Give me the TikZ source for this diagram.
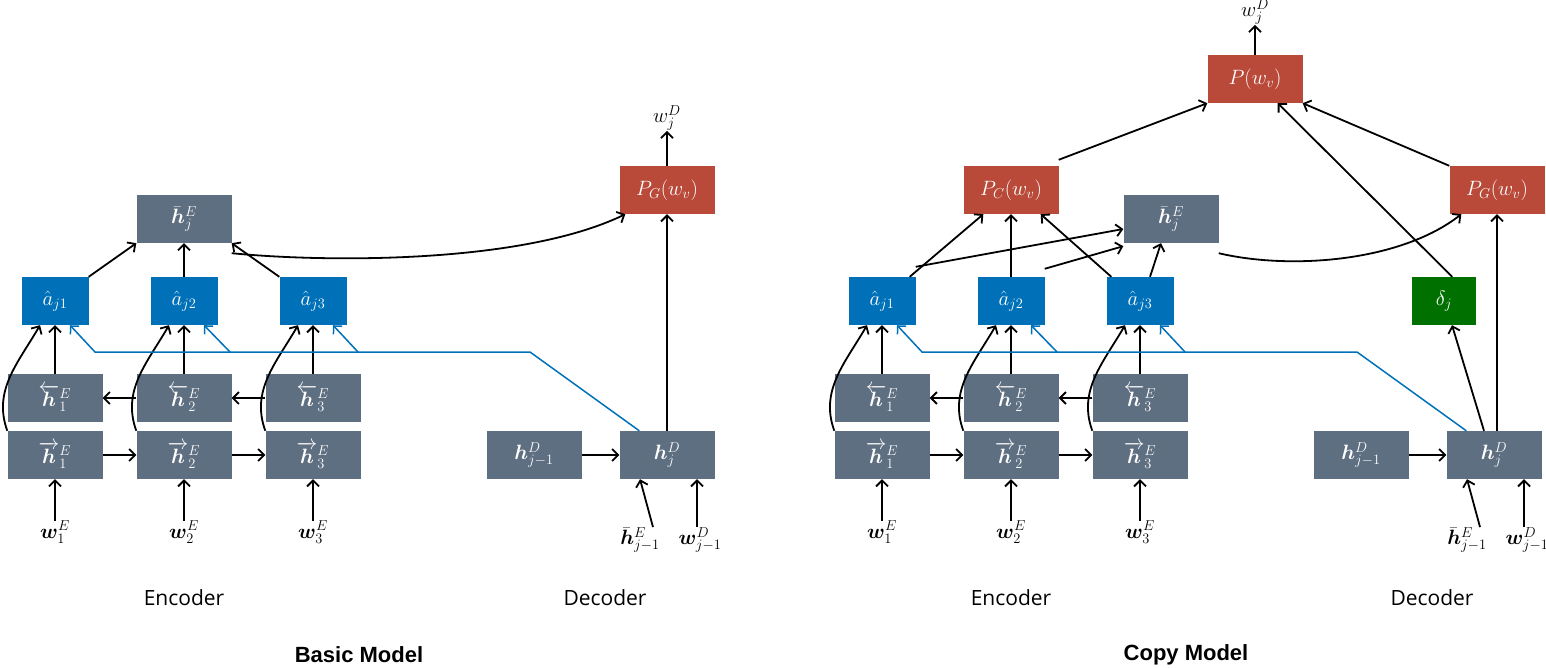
\documentclass[tikz,border=0pt]{standalone}
\usepackage{amsmath,bm}
\usepackage{fontspec}
\newfontfamily\sansf{Open Sans}
\newfontfamily\titlef{Liberation Sans}
\usetikzlibrary{arrows.meta}
\definecolor{gbox}{RGB}{95,111,130}
\definecolor{bbox}{RGB}{0,113,184}
\definecolor{rbox}{RGB}{185,74,58}
\definecolor{grbox}{RGB}{0,112,0}
\begin{document}
\begin{tikzpicture}[x=1pt,y=-1pt,
 box/.style={fill=#1,text=white,minimum width=95pt,minimum height=48pt,inner sep=0pt,font=\fontsize{22}{26}\selectfont},
 sbox/.style={box=#1,minimum width=67pt},
 ar/.style={-{Straight Barb[length=6pt,width=12pt]},line width=1.8pt},
 bl/.style={ar,draw=bbox,line width=1.5pt},
 lab/.style={font=\fontsize{22}{26}\selectfont,inner sep=0pt},
 captxt/.style={font=\sansf\fontsize{21}{25}\selectfont},
 ttl/.style={font=\titlef\bfseries\fontsize{22}{26}\selectfont}]
\useasboundingbox (0,0) rectangle (1546,668);
% ===== Basic model =====
\foreach \i/\x in {1/55,2/184,3/313}{
 \node[box=gbox] (f\i) at (\x,455) {$\overrightarrow{\bm h}{}^E_\i$};
 \node[box=gbox] (b\i) at (\x,398) {$\overleftarrow{\bm h}{}^E_\i$};
 \node[sbox=bbox] (a\i) at (\x,301) {$\hat a_{j\i}$};
 \node[lab] (w\i) at (\x,532) {$\bm w^E_\i$};
 \draw[ar] (w\i.north) -- (f\i.south);
 \draw[ar] (b\i) -- (a\i);
 \draw[ar] (f\i.north west) to[out=110,in=240] ([xshift=-15pt]a\i.south);
}
\draw[ar] (f1) -- (f2); \draw[ar] (f2) -- (f3);
\draw[ar] (b3) -- (b2); \draw[ar] (b2) -- (b1);
\node[box=gbox] (hb) at (184,219) {$\bar{\bm h}{}^E_j$};
\draw[ar] (a1.north east) -- (hb.south west);
\draw[ar] (a2) -- (hb);
\draw[ar] (a3.north west) -- (hb.south east);
\node[box=gbox] (hdp) at (534,455) {$\bm h^D_{j-1}$};
\node[box=gbox] (hd) at (667,455) {$\bm h^D_{j}$};
\node[box=rbox] (pg) at (667,190) {$P_G(w_v)$};
\node[lab] (wd) at (667,118) {$w^D_j$};
\node[lab] (i1) at (640,540) {$\bar{\bm h}{}^E_{j-1}$};
\node[lab] (i2) at (700,540) {$\bm w^D_{j-1}$};
\draw[ar] (hdp) -- (hd);
\draw[ar] (hd) -- (pg);
\draw[ar] (pg) -- (wd.south);
\draw[ar] ([xshift=13pt]i1.north) -- ([xshift=-27pt]hd.south);
\draw[ar] ([xshift=-3pt]i2.north) -- ([xshift=30pt]hd.south);
\draw[ar] ([yshift=-10pt]hb.south east) .. controls (320,262) and (520,265) .. ([xshift=6pt]pg.south west);
\coordinate (c1) at (530,352); \coordinate (c2) at (95,352);
\coordinate (c3) at (230,352); \coordinate (c4) at (358,352);
\draw[bl] ([xshift=20pt]hd.north west) -- (c1) -- (c2) -- ([xshift=15pt]a1.south);
\draw[bl] (c3) -- ([xshift=20pt]a2.south);
\draw[bl] (c4) -- ([xshift=20pt]a3.south);
\node[captxt] (enc) at (184,598) {Encoder};
\node[captxt] (dec) at (605,598) {Decoder};
\node[ttl] (t1) at (359,655) {Basic Model};
% ===== Copy model =====
\foreach \i/\x in {1/882,2/1011,3/1140}{
 \node[box=gbox] (F\i) at (\x,455) {$\overrightarrow{\bm h}{}^E_\i$};
 \node[box=gbox] (B\i) at (\x,398) {$\overleftarrow{\bm h}{}^E_\i$};
 \node[sbox=bbox] (A\i) at (\x,301) {$\hat a_{j\i}$};
 \node[lab] (W\i) at (\x,532) {$\bm w^E_\i$};
 \draw[ar] (W\i.north) -- (F\i.south);
 \draw[ar] (B\i) -- (A\i);
 \draw[ar] (F\i.north west) to[out=110,in=240] ([xshift=-15pt]A\i.south);
}
\draw[ar] (F1) -- (F2); \draw[ar] (F2) -- (F3);
\draw[ar] (B3) -- (B2); \draw[ar] (B2) -- (B1);
\node[box=gbox] (HB) at (1171,219) {$\bar{\bm h}{}^E_j$};
\node[box=rbox] (PC) at (1011,190) {$P_C(w_v)$};
\node[box=rbox] (PG) at (1497,190) {$P_G(w_v)$};
\node[box=rbox] (P) at (1255,79) {$P(w_v)$};
\node[lab] (WD) at (1255,12) {$w^D_j$};
\node[sbox=grbox,minimum width=64pt] (dl) at (1444,301) {$\delta_j$};
\node[box=gbox] (HDP) at (1361,455) {$\bm h^D_{j-1}$};
\node[box=gbox] (HD) at (1494,455) {$\bm h^D_{j}$};
\node[lab] (I1) at (1467,540) {$\bar{\bm h}{}^E_{j-1}$};
\node[lab] (I2) at (1527,540) {$\bm w^D_{j-1}$};
\draw[ar] ([xshift=-6pt]A1.north east) -- ([xshift=20pt]PC.south west);
\draw[ar] (A2) -- (PC);
\draw[ar] ([xshift=5pt]A3.north west) -- ([xshift=-18pt]PC.south east);
\draw[ar] ([yshift=10pt]A1.north east) -- ([yshift=-10pt]HB.west);
\draw[ar] ([yshift=8pt]A2.north east) -- ([yshift=-3pt]HB.south west);
\draw[ar] ([xshift=10pt]A3.north) -- ([xshift=-10pt]HB.south);
\draw[ar] ([yshift=-10pt]HB.south east) .. controls (1290,270) and (1400,262) .. ([xshift=12pt]PG.south west);
\draw[ar] ([yshift=6pt]PC.north east) -- (P.south west);
\draw[ar] (PG.north west) -- (P.south east);
\draw[ar] ([xshift=-24pt]dl.north east) -- ([xshift=-25pt]P.south east);
\draw[ar] ([xshift=-10pt]HD.north) -- ([xshift=8pt]dl.south);
\draw[ar] ([xshift=3pt]HD.north) -- (PG.south);
\draw[ar] (P) -- (WD.south);
\draw[ar] (HDP) -- (HD);
\draw[ar] ([xshift=13pt]I1.north) -- ([xshift=-27pt]HD.south);
\draw[ar] ([xshift=-3pt]I2.north) -- ([xshift=30pt]HD.south);
\coordinate (d1) at (1357,352); \coordinate (d2) at (922,352);
\coordinate (d3) at (1057,352); \coordinate (d4) at (1185,352);
\draw[bl] ([xshift=20pt]HD.north west) -- (d1) -- (d2) -- ([xshift=15pt]A1.south);
\draw[bl] (d3) -- ([xshift=20pt]A2.south);
\draw[bl] (d4) -- ([xshift=20pt]A3.south);
\node[captxt] (enc2) at (1011,598) {Encoder};
\node[captxt] (dec2) at (1432,598) {Decoder};
\node[ttl] (t2) at (1186,655) {Copy Model};
\end{tikzpicture}
\end{document}
